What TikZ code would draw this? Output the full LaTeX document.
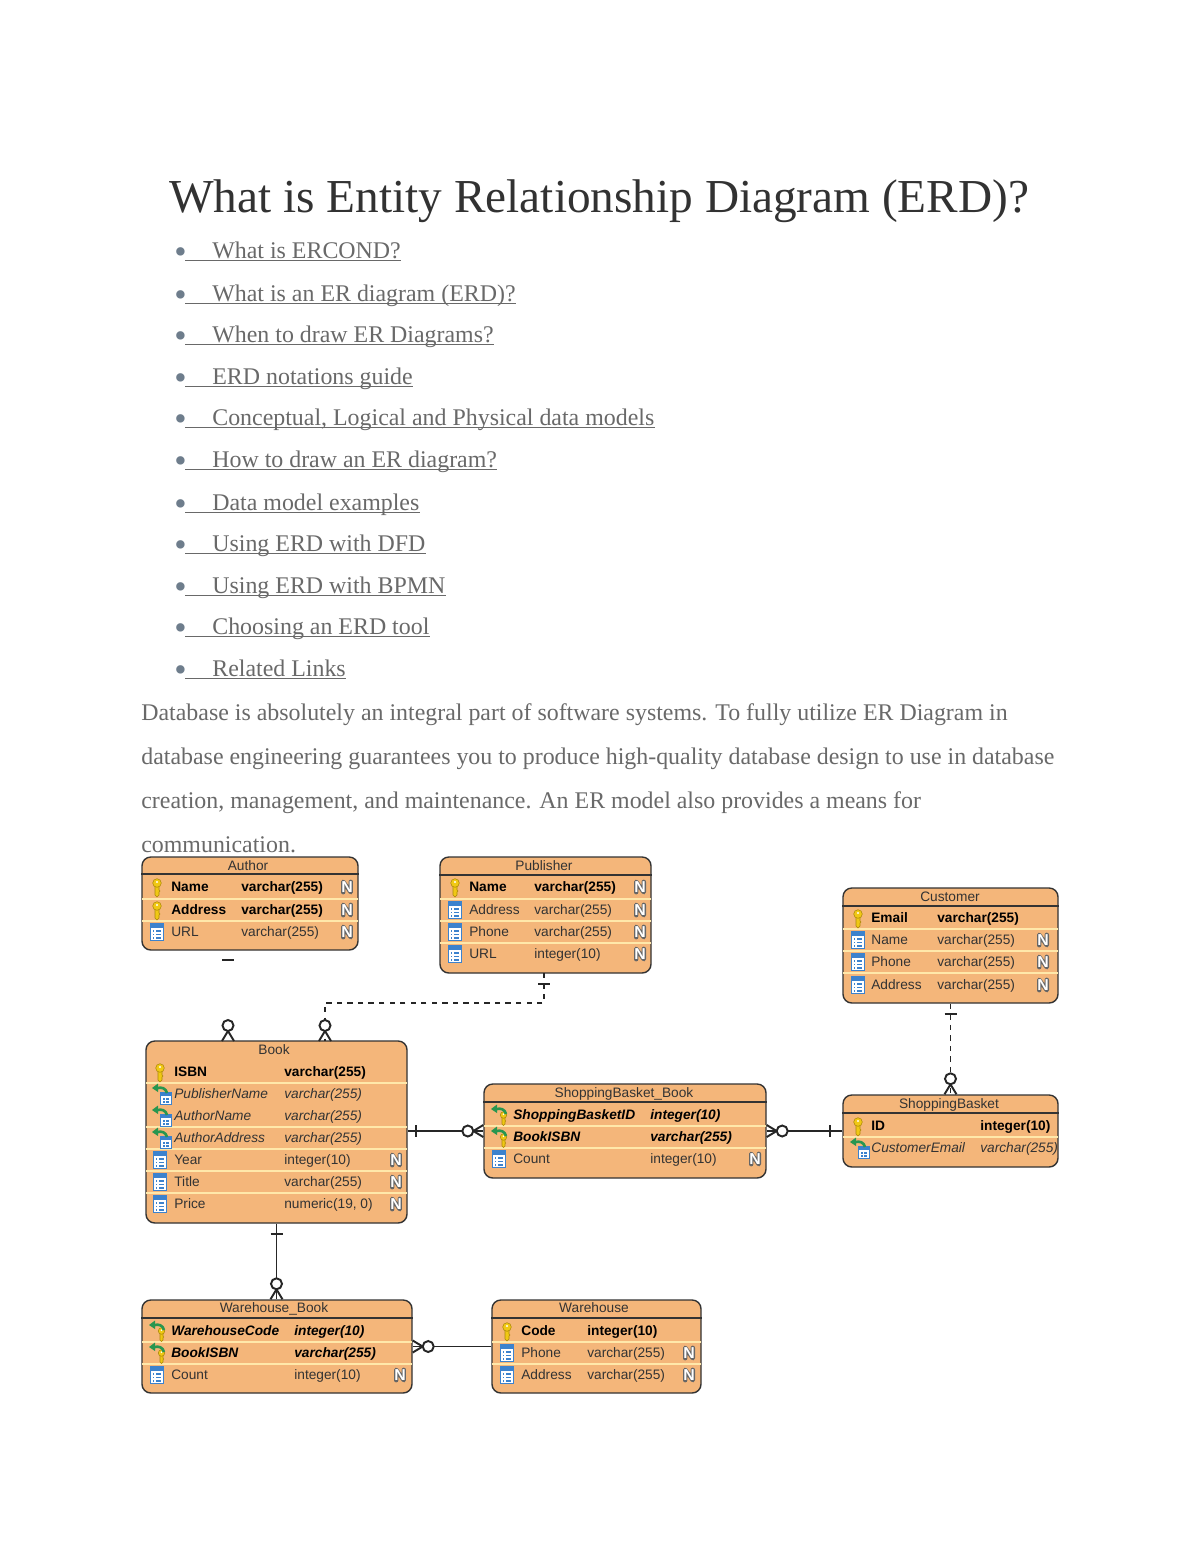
\documentclass[tikz,border=0pt]{standalone}
\usepackage{fontspec}
\setmainfont{Liberation Serif}
\setsansfont{Liberation Sans}
\usetikzlibrary{fit, calc}
\definecolor{erfill}{RGB}{244, 182, 122}
\definecolor{erline}{RGB}{51, 51, 51}
\definecolor{errow}{RGB}{255, 232, 170}
\definecolor{bodygray}{RGB}{105, 105, 105}
\definecolor{headgray}{RGB}{50, 50, 50}
\definecolor{bulletgray}{RGB}{110, 125, 140}
\definecolor{keyyellow}{RGB}{240, 200, 20}
\definecolor{keyedge}{RGB}{170, 135, 10}
\definecolor{colblue}{RGB}{60, 130, 205}
\definecolor{fkgreen}{RGB}{40, 150, 80}
\tikzstyle{heading} = [anchor=base west, inner sep=0pt, text=headgray, font=\fontsize{26.9pt}{30pt}\selectfont]
\tikzstyle{listitem} = [anchor=base west, inner sep=0pt, text=bodygray, font=\fontsize{13.6pt}{16pt}\selectfont]
\tikzstyle{listdot} = [anchor=base west, inner sep=0pt, text=bulletgray, font=\fontsize{20pt}{22pt}\selectfont]
\tikzstyle{linkline} = [bodygray, line width=0.7pt]
\tikzstyle{entity} = [rectangle, rounded corners=5pt, draw=erline, fill=erfill, line width=0.8pt, inner sep=0pt]
\tikzstyle{etitle} = [anchor=base, inner sep=0pt, text=erline, font=\sffamily\fontsize{7.8pt}{9pt}\selectfont]
\tikzstyle{headline} = [erline, line width=0.8pt]
\tikzstyle{rowline} = [errow, line width=0.8pt, shorten <=0.4pt, shorten >=0.4pt]
\tikzstyle{plaincol} = [anchor=base west, inner sep=0pt, text=erline, font=\sffamily\fontsize{7.8pt}{9pt}\selectfont]
\tikzstyle{pkcol} = [plaincol, text=black, font=\sffamily\bfseries\fontsize{7.8pt}{9pt}\selectfont]
\tikzstyle{fkcol} = [plaincol, font=\sffamily\itshape\fontsize{7.8pt}{9pt}\selectfont]
\tikzstyle{pfcol} = [plaincol, text=black, font=\sffamily\bfseries\itshape\fontsize{7.8pt}{9pt}\selectfont]
\tikzstyle{nullflag} = [inner sep=0pt, text=white, font=\sffamily\bfseries\fontsize{9pt}{10pt}\selectfont]
\tikzstyle{nullback} = [black!60, line width=2.5pt, line join=round, line cap=round]
\tikzstyle{rel} = [black!85, line width=1.1pt]
\tikzset{
  keyshape/.pic={
    \filldraw [keyyellow, draw=keyedge, line width=0.3pt] (-2,-2) -- (-2,8) -- (0,10) -- (2,8) -- (2,5) -- (3,4) -- (2,3) -- (2,-2) -- cycle;
    \filldraw [keyyellow, draw=keyedge, line width=0.3pt] (0,-4) circle (4.3);
    \fill [white] (0,-5) circle (1.2);
  },
  keyicon/.pic={\pic at (0,0) {keyshape};},
  colicon/.pic={
    \filldraw [white, draw=colblue, line width=0.6pt] (-6.5,-8.5) rectangle (6.5,8.5);
    \fill [colblue] (-6.5,-8.5) rectangle (6.5,-4);
    \foreach \d in {-2,1.5,5} \fill [colblue] (-1.5,\d) rectangle (4,\d+1.7);
    \foreach \d in {-2,1.5,5} \fill [colblue] (-4,\d) rectangle (-2.7,\d+1.7);
  },
  greenarrow/.pic={
    \draw [fkgreen, line width=1.5pt] (7,-1) .. controls (6,-6) and (1,-7) .. (-2,-6);
    \fill [fkgreen] (-8,-6) -- (-2,-10.5) -- (-2,-2) -- cycle;
  },
  fkicon/.pic={
    \filldraw [white, draw=colblue, line width=0.4pt] (0,-2) rectangle (11,10);
    \fill [colblue] (0,-2) rectangle (11,1.5);
    \foreach \d in {3.5,6.8} \fill [colblue] (2.5,\d) rectangle (4.7,\d+2);
    \foreach \d in {3.5,6.8} \fill [colblue] (6.3,\d) rectangle (8.5,\d+2);
    \pic at (0,0) {greenarrow};
  },
  pficon/.pic={
    \pic [scale=0.75] at (4.5,3) {keyshape};
    \pic at (0,0) {greenarrow};
  },
  nullmark/.pic={\draw [nullback] (-3.8,5.2) -- (-3.8,-5.2) -- (3.8,5.2) -- (3.8,-5.2);},
  crow/.pic={
    \draw [rel] (0,-6) -- (10,0) -- (0,6);
    \filldraw [rel, fill=white] (15.5,0) circle (5.5);
  },
  tick/.pic={\draw [rel] (0,-6) -- (0,6);},
}
% rows of one entity: prefix, icon x, name x, type x, flag x, rows
\newcommand{\errows}[6]{
  \foreach \y/\ic/\st/\nm/\ty/\nl in {#6} {
    \pic at (#2,\y) {\ic};
    \node (#1name\y) [\st] at (#3,\y+4) {\nm};
    \node (#1type\y) [\st] at (#4,\y+4) {\ty};
    \ifnum\nl=1
      \pic at (#5,\y) {nullmark};
      \node (#1null\y) [nullflag] at (#5,\y) {N};
    \fi
  }
}
\begin{document}
\begin{tikzpicture}[x=0.02cm, y=-0.02cm]
    \useasboundingbox (0,0) rectangle (1200,1553);
    \fill [white] (0,0) rectangle (1200,1553);

    % Page text
    \node (title) [heading] at (169,212) {What is Entity Relationship Diagram (ERD)?};
    \foreach \n/\y/\t in {1/258/What is ERCOND?, 2/301/What is an ER diagram (ERD)?, 3/342/When to draw ER Diagrams?,
        4/384/ERD notations guide, 5/425/{Conceptual, Logical and Physical data models}, 6/467/How to draw an ER diagram?,
        7/510/Data model examples, 8/551/Using ERD with DFD, 9/593/Using ERD with BPMN, 10/634/Choosing an ERD tool, 11/676/Related Links} {
        \node (bullet\n) [listdot] at (174,\y+5) {•};
        \node (link\n) [listitem] at (212,\y) {\t};
        \draw [linkline] ($(link\n.base west)+(-27,2.5)$) -- ($(link\n.base east)+(0,2.5)$);
    }
    \node (para1) [listitem] at (141,720) {Database is absolutely an integral part of software systems. To fully utilize ER Diagram in};
    \node (para2) [listitem] at (141,764) {database engineering guarantees you to produce high-quality database design to use in database};
    \node (para3) [listitem] at (141,808) {creation, management, and maintenance. An ER model also provides a means for};
    \node (para4) [listitem] at (141,852) {communication.};

    % Author
    \node (author) [entity, fit={(142,857) (358,950)}] {};
    \node (authortitle) [etitle] at (248,870.5) {Author};
    \draw [headline] (author.west |- 0,874) -- (author.east |- 0,874);
    \foreach \y in {899,921} \draw [rowline] (author.west |- 0,\y) -- (author.east |- 0,\y);
    \errows{author}{157}{171}{241}{347}{887/keyicon/pkcol/Name/varchar(255)/1, 910/keyicon/pkcol/Address/varchar(255)/1, 932/colicon/plaincol/URL/varchar(255)/1}

    % Publisher
    \node (publisher) [entity, fit={(440,857) (651,973)}] {};
    \node (publishertitle) [etitle] at (544,870.5) {Publisher};
    \draw [headline] (publisher.west |- 0,875) -- (publisher.east |- 0,875);
    \foreach \y in {899,921,943} \draw [rowline] (publisher.west |- 0,\y) -- (publisher.east |- 0,\y);
    \errows{publisher}{455}{469}{534}{640}{887/keyicon/pkcol/Name/varchar(255)/1, 910/colicon/plaincol/Address/varchar(255)/1, 932/colicon/plaincol/Phone/varchar(255)/1, 954/colicon/plaincol/URL/integer(10)/1}

    % Customer
    \node (customer) [entity, fit={(843,888) (1058,1003)}] {};
    \node (customertitle) [etitle] at (950,901.5) {Customer};
    \draw [headline] (customer.west |- 0,906) -- (customer.east |- 0,906);
    \foreach \y in {929,951,973} \draw [rowline] (customer.west |- 0,\y) -- (customer.east |- 0,\y);
    \errows{customer}{858}{871}{937}{1043}{918/keyicon/pkcol/Email/varchar(255)/0, 940/colicon/plaincol/Name/varchar(255)/1, 962/colicon/plaincol/Phone/varchar(255)/1, 985/colicon/plaincol/Address/varchar(255)/1}

    % Book
    \node (book) [entity, fit={(146,1041) (407,1223)}] {};
    \node (booktitle) [etitle] at (274,1054.5) {Book};
    \foreach \y in {1083,1127,1149,1171,1193} \draw [rowline] (book.west |- 0,\y) -- (book.east |- 0,\y);
    \errows{book}{160}{174}{284}{396}{1072/keyicon/pkcol/ISBN/varchar(255)/0, 1094/fkicon/fkcol/PublisherName/varchar(255)/0, 1116/fkicon/fkcol/AuthorName/varchar(255)/0, 1138/fkicon/fkcol/AuthorAddress/varchar(255)/0, 1160/colicon/plaincol/Year/integer(10)/1, 1182/colicon/plaincol/Title/varchar(255)/1, 1204/colicon/plaincol/Price/{numeric(19, 0)}/1}

    % ShoppingBasket_Book
    \node (basketbook) [entity, fit={(484,1084) (766,1178)}] {};
    \node (basketbooktitle) [etitle] at (624,1097.5) {ShoppingBasket\_Book};
    \draw [headline] (basketbook.west |- 0,1102) -- (basketbook.east |- 0,1102);
    \foreach \y in {1126,1148} \draw [rowline] (basketbook.west |- 0,\y) -- (basketbook.east |- 0,\y);
    \errows{basketbook}{499}{513}{650}{755}{1115/pficon/pfcol/ShoppingBasketID/integer(10)/0, 1137/pficon/pfcol/BookISBN/varchar(255)/0, 1159/colicon/plaincol/Count/integer(10)/1}

    % ShoppingBasket
    \node (basket) [entity, fit={(843,1095) (1058,1167)}] {};
    \node (baskettitle) [etitle] at (949,1108.5) {ShoppingBasket};
    \draw [headline] (basket.west |- 0,1113) -- (basket.east |- 0,1113);
    \draw [rowline] (basket.west |- 0,1137) -- (basket.east |- 0,1137);
    \errows{basket}{858}{871}{980}{1043}{1126/keyicon/pkcol/ID/integer(10)/0, 1148/fkicon/fkcol/CustomerEmail/varchar(255)/0}

    % Warehouse_Book
    \node (warehousebook) [entity, fit={(142,1300) (412,1393)}] {};
    \node (warehousebooktitle) [etitle] at (274,1312.5) {Warehouse\_Book};
    \draw [headline] (warehousebook.west |- 0,1318) -- (warehousebook.east |- 0,1318);
    \foreach \y in {1342,1364} \draw [rowline] (warehousebook.west |- 0,\y) -- (warehousebook.east |- 0,\y);
    \errows{warehousebook}{157}{171}{294}{400}{1331/pficon/pfcol/WarehouseCode/integer(10)/0, 1353/pficon/pfcol/BookISBN/varchar(255)/0, 1375/colicon/plaincol/Count/integer(10)/1}

    % Warehouse
    \node (warehouse) [entity, fit={(492,1300) (701,1393)}] {};
    \node (warehousetitle) [etitle] at (594,1312.5) {Warehouse};
    \draw [headline] (warehouse.west |- 0,1318) -- (warehouse.east |- 0,1318);
    \foreach \y in {1342,1364} \draw [rowline] (warehouse.west |- 0,\y) -- (warehouse.east |- 0,\y);
    \errows{warehouse}{507}{521}{587}{689}{1331/keyicon/pkcol/Code/integer(10)/0, 1353/colicon/plaincol/Phone/varchar(255)/1, 1375/colicon/plaincol/Address/varchar(255)/1}

    % Relations
    \coordinate (authorfoot) at (228,1041);
    \coordinate (publisherfoot) at (325,1041);
    \coordinate (publisherdrop) at (544,973);
    \coordinate (publisherbend) at (325,1003);
    \coordinate (authortick) at (228,960);
    \draw [rel, dashed] (publisherdrop) -- (publisherdrop |- publisherbend) -- (publisherbend) -- (publisherfoot);
    \draw [rel] (book.south) -- (book.south |- warehousebook.north);
    \draw [rel] (book.east |- basketbook.west) -- (basketbook.west);
    \draw [rel] (basket.west) -- (basketbook.east |- basket.west);
    \draw [rel, dashed] (customer.south) -- (customer.south |- basket.north);
    \draw [rel] (warehouse.west) -- (warehousebook.east |- warehouse.west);

    \pic [rotate=90] at (authortick) {tick};
    \pic [rotate=90] at (authorfoot) {crow};
    \pic [rotate=90] at (publisherfoot) {crow};
    \pic [rotate=90] at ($(publisherdrop)+(0,11)$) {tick};
    \pic [rotate=90] at ($(book.south)+(0,10)$) {tick};
    \pic [rotate=90] at (book.south |- warehousebook.north) {crow};
    \pic at ($(book.east |- basketbook.west)+(8,0)$) {tick};
    \pic [rotate=180] at (basketbook.west) {crow};
    \pic at ($(basket.west)+(-12,0)$) {tick};
    \pic at (basketbook.east |- basket.west) {crow};
    \pic [rotate=90] at ($(customer.south)+(0,10)$) {tick};
    \pic [rotate=90] at (customer.south |- basket.north) {crow};
    \pic at (warehousebook.east |- warehouse.west) {crow};
\end{tikzpicture}
\end{document}
